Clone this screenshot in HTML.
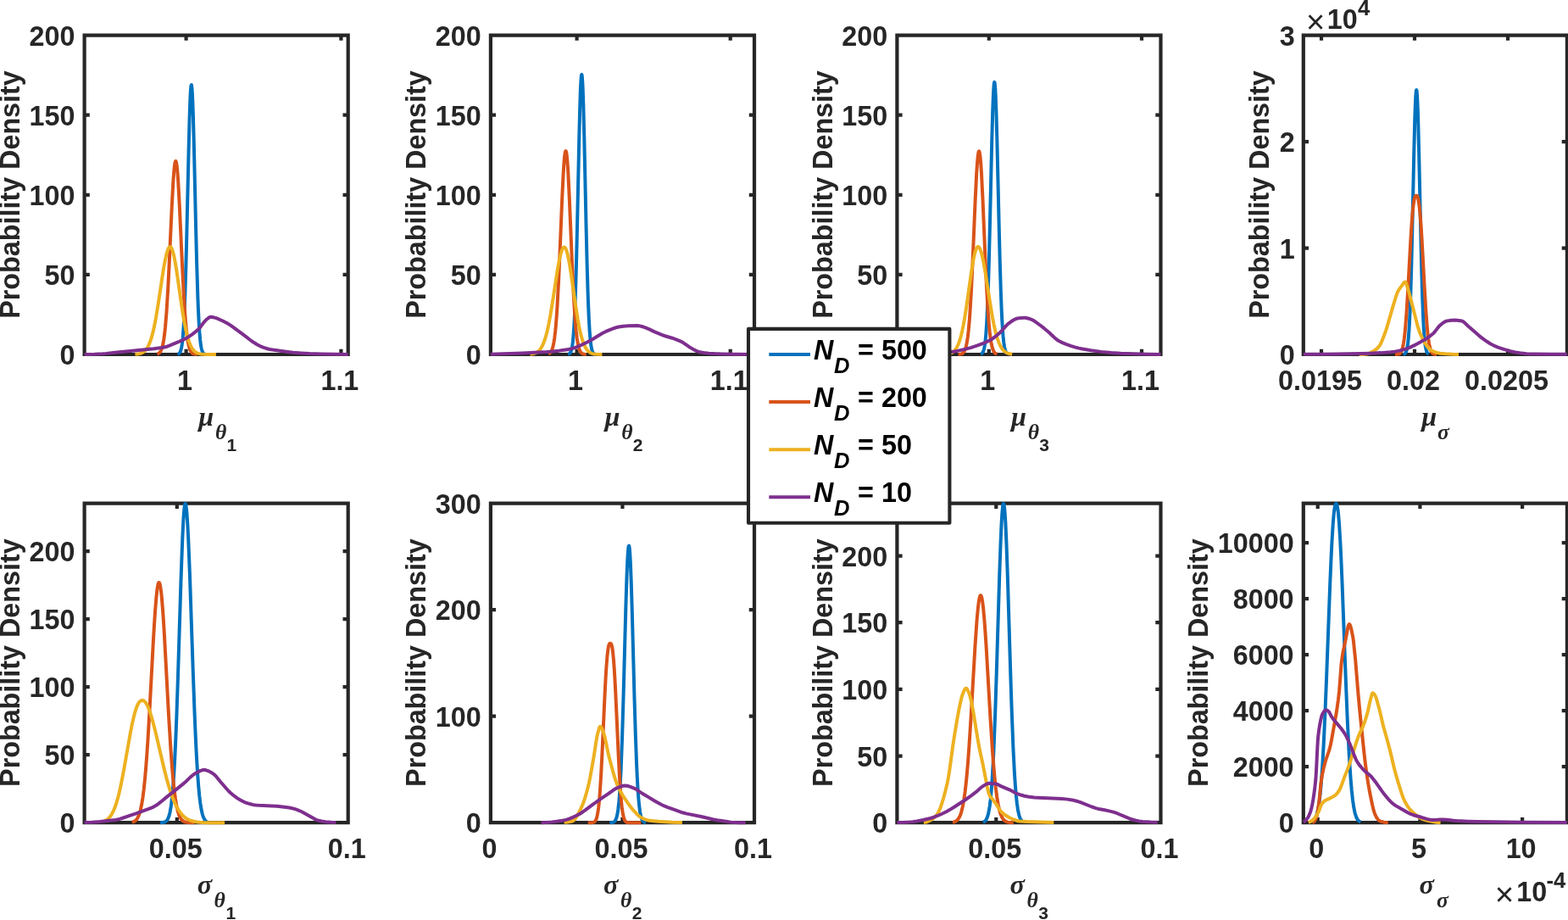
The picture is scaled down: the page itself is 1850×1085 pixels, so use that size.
<!DOCTYPE html>
<html><head><meta charset="utf-8"><title>Figure</title>
<style>html,body{margin:0;padding:0;background:#fff;overflow:hidden}svg{display:block}</style>
</head><body>
<svg width="1850" height="1085" viewBox="0 0 1850 1085">
<rect width="1850" height="1085" fill="#fff"/>
<g font-family="'Liberation Sans', Arial, sans-serif" font-weight="bold" font-size="32.3" fill="#262626" stroke-linejoin="round">
<clipPath id="c0"><rect x="96.6" y="38.6" width="317.1" height="382.4"/></clipPath>
<path d="M99.6 41.6H410.7V418H99.6Z" fill="none" stroke="#262626" stroke-width="4.2" stroke-linejoin="miter"/>
<path d="M219.6 418V411.8M219.6 41.6V47.8M402.4 418V411.8M402.4 41.6V47.8M99.6 323.9H105.8M410.7 323.9H404.5M99.6 229.8H105.8M410.7 229.8H404.5M99.6 135.7H105.8M410.7 135.7H404.5" stroke="#262626" stroke-width="4.2" fill="none"/>
<g clip-path="url(#c0)" fill="none" stroke-width="4" stroke-linejoin="round" stroke-linecap="butt">
<path stroke="#0072BD" d="M209.4 417.78L210.4 417.48L211.15 417.04L211.9 416.29L212.4 415.53L212.9 414.47L213.4 413.03L214.15 409.9L214.9 405.21L215.65 398.39L216.4 388.85L217.15 375.97L218.4 345.69L219.4 312.98L220.4 273.51L222.65 174.91L223.65 137.45L224.4 116.51L224.9 106.99L225.4 101.47L225.65 100.29L225.9 100.19L226.15 101.15L226.4 103.18L226.9 110.33L227.4 121.36L227.9 135.84L228.9 172.85L231.15 271.4L232.15 311.16L233.4 351.33L233.9 364.08L234.65 379.76L235.4 391.7L236.15 400.45L236.9 406.64L237.65 410.87L238.15 412.86L238.65 414.34L239.15 415.43L239.65 416.22L240.15 416.79L240.9 417.33L241.9 417.71L243 417.89"/>
<path stroke="#D95319" d="M185.5 417.53L186.5 417.18L187.25 416.78L188 416.21L188.75 415.41L189.5 414.3L190 413.35L190.75 411.53L191.25 410.01L192.25 406.02L193.25 400.51L194.25 393.12L195 386.14L196.5 367.99L198.25 339.43L199.75 309.38L202.75 243.82L204.25 215.98L205 205.16L205.75 197.01L206.5 191.89L207 190.27L207.25 190.01L207.5 190.12L207.75 190.6L208 191.45L208.75 196.15L209.5 203.91L210.25 214.4L211.75 241.77L215 312.56L216.5 342.18L217.5 359.09L218.25 370.07L219 379.57L220 390.02L221 398.15L222 404.28L222.5 406.71L223.25 409.67L223.75 411.25L224.5 413.14L225 414.13L225.75 415.28L226.5 416.11L227.5 416.87L228.5 417.34L229.5 417.63L230.75 417.82L232.5 417.94"/>
<path stroke="#EDB120" d="M159.4 417.82L163.15 417.44L164.65 417.14L166.15 416.71L167.4 416.22L168.65 415.56L169.9 414.7L170.9 413.83L171.9 412.78L172.9 411.51L174.65 408.68L176.4 404.91L178.15 400.06L179.65 394.93L180.9 389.92L182.4 383.01L183.9 375.16L186.65 358.62L192.4 320.65L193.9 311.78L195.15 305.28L196.65 298.86L197.9 294.87L198.65 293.14L199.4 291.92L200.15 291.25L200.65 291.1L201.15 291.21L201.9 291.88L202.4 292.66L203.15 294.32L204.4 298.33L205.65 303.75L206.9 310.38L208.4 319.58L214.4 361.24L215.9 370.87L217.4 379.61L219.15 388.51L220.9 395.93L222.65 401.91L224.4 406.58L225.4 408.72L226.4 410.52L227.4 412.03L228.4 413.27L229.4 414.28L230.65 415.29L231.9 416.04L233.4 416.7L234.65 417.09L236.15 417.42L239.9 417.83L244.65 417.97L254.9 418"/>
<path stroke="#7E2F8E" d="M99.6 417.9L111.6 417.64L121.35 417.18L125.35 416.88L135.85 415.75L181.6 411.19L190.6 410.08L193.85 409.51L195.85 409.02L199.85 407.6L210.6 403.22L214.1 401.7L219.1 399.18L224.1 396.12L227.1 394.04L229.85 391.95L232.1 390.07L234.1 388.2L236.35 385.81L239.85 380.98L241.85 378.6L243.35 377.04L245.6 375.25L246.85 374.39L247.85 373.94L248.85 373.8L250.1 373.9L251.6 374.19L254.35 374.89L255.85 375.41L262.85 378.54L268.1 381.25L270.85 382.9L274.1 385.14L289.35 396.46L295.85 401.48L298.85 403.57L303.6 406.48L307.1 408.31L311.1 409.9L315.35 411.25L318.35 411.97L321.6 412.55L337.6 414.76L345.6 415.69L355.1 416.44L365.1 417.01L379.35 417.43L396.1 417.79L410.7 417.9"/>
</g>
<text x="218.1" y="459.7" text-anchor="middle">1</text>
<text x="400.9" y="459.7" text-anchor="middle">1.1</text>
<text x="88.4" y="430.1" text-anchor="end">0</text>
<text x="88.4" y="336" text-anchor="end">50</text>
<text x="88.4" y="241.9" text-anchor="end">100</text>
<text x="88.4" y="147.8" text-anchor="end">150</text>
<text x="88.4" y="53.7" text-anchor="end">200</text>
<text transform="translate(23.2 229.5) rotate(-90)" text-anchor="middle" font-size="32.3">Probability Density</text>
<clipPath id="c1"><rect x="575.9" y="38.6" width="317.1" height="382.4"/></clipPath>
<path d="M578.9 41.6H890V418H578.9Z" fill="none" stroke="#262626" stroke-width="4.2" stroke-linejoin="miter"/>
<path d="M680.6 418V411.8M680.6 41.6V47.8M861.7 418V411.8M861.7 41.6V47.8M578.9 323.9H585.1M890 323.9H883.8M578.9 229.8H585.1M890 229.8H883.8M578.9 135.7H585.1M890 135.7H883.8" stroke="#262626" stroke-width="4.2" fill="none"/>
<g clip-path="url(#c1)" fill="none" stroke-width="4" stroke-linejoin="round" stroke-linecap="butt">
<path stroke="#0072BD" d="M670.1 417.81L671.1 417.53L671.85 417.11L672.6 416.38L673.1 415.63L673.6 414.59L674.1 413.14L674.6 411.18L675.1 408.57L675.85 403.05L676.6 395.06L677.35 383.9L677.85 374.37L679.1 342.03L680.1 306.93L681.1 264.57L683.35 159.98L684.35 121.54L684.85 106.9L685.35 96.14L685.85 89.69L686.1 88.17L686.35 87.82L686.6 88.64L686.85 90.62L687.35 97.96L687.85 109.54L688.35 124.88L689.35 164.33L691.6 269.07L692.6 310.8L693.6 345.09L694.1 359.14L694.85 376.42L695.6 389.55L696.35 399.14L697.1 405.9L697.85 410.47L698.35 412.61L698.85 414.2L699.35 415.36L699.85 416.19L700.35 416.77L701.1 417.34L701.85 417.65L703 417.88"/>
<path stroke="#D95319" d="M647 417.43L648 416.98L648.75 416.46L649.5 415.71L650.25 414.66L651 413.19L651.5 411.93L652.5 408.52L653.5 403.63L654.25 398.72L655.25 390.2L656 382.09L656.75 372.36L657.5 360.93L659 332.98L660.25 305.2L663.25 232.84L664.5 207.1L665.25 194.83L666 185.63L666.75 179.93L667.25 178.22L667.5 178L667.75 178.22L668 178.86L668.25 179.93L668.75 183.33L669.5 191.4L670.25 202.7L671.75 232.84L675 311.02L676.5 343.02L678 368.74L678.75 379.03L679.75 390.2L680.75 398.72L681.75 405.01L682.75 409.5L683.25 411.2L684 413.19L684.5 414.22L685.25 415.4L686 416.24L686.75 416.83L687.75 417.34L688.75 417.63L690 417.83L691.8 417.95"/>
<path stroke="#EDB120" d="M625.4 417.73L628.9 417.24L630.4 416.86L631.65 416.42L632.9 415.83L634.15 415.06L635.15 414.29L636.15 413.34L637.15 412.2L638.15 410.82L639.9 407.79L641.65 403.8L643.15 399.5L644.65 394.31L645.9 389.27L647.4 382.34L648.9 374.48L651.65 358.03L657.4 320.51L658.9 311.79L660.15 305.41L661.65 299.11L662.9 295.19L663.65 293.49L664.4 292.31L665.15 291.64L665.65 291.5L666.15 291.61L666.9 292.29L667.4 293.09L668.15 294.77L669.4 298.84L670.9 305.59L672.15 312.52L673.4 320.36L678.9 358.9L681.65 376.35L683.15 384.54L684.65 391.64L686.15 397.63L687.9 403.3L689.65 407.67L691.4 410.93L692.4 412.38L693.4 413.57L694.4 414.53L695.65 415.48L696.9 416.2L698.15 416.73L699.4 417.11L700.9 417.43L704.65 417.83L710.4 417.98"/>
<path stroke="#7E2F8E" d="M578.9 417.8L616.4 416.46L645.15 414.96L652.15 414.41L659.4 413.64L665.65 412.82L670.9 411.91L674.15 411.21L677.15 410.37L680.9 409.09L683.65 407.93L692.4 403.75L696.15 401.82L698.9 400.21L708.65 394.18L711.65 392.52L714.9 390.95L717.9 389.63L725.65 386.72L728.15 385.94L730.15 385.46L735.65 384.73L741.4 384.3L751.9 384L753.9 384.17L755.9 384.6L757.9 385.23L762.65 386.92L765.65 388.15L772.4 391.37L780.9 394.94L784.65 396.24L793.15 398.72L797.65 400.29L800.9 401.58L803.65 402.83L805.4 403.78L807.4 405.07L812.9 408.91L819.15 412.6L822.15 414.1L824.65 414.94L828.65 415.79L832.4 416.36L836.15 416.69L842.9 417.08L851.9 417.4L866.65 417.74L890 418"/>
</g>
<text x="679.1" y="459.7" text-anchor="middle">1</text>
<text x="860.2" y="459.7" text-anchor="middle">1.1</text>
<text x="567.7" y="430.1" text-anchor="end">0</text>
<text x="567.7" y="336" text-anchor="end">50</text>
<text x="567.7" y="241.9" text-anchor="end">100</text>
<text x="567.7" y="147.8" text-anchor="end">150</text>
<text x="567.7" y="53.7" text-anchor="end">200</text>
<text transform="translate(502.2 229.5) rotate(-90)" text-anchor="middle" font-size="32.3">Probability Density</text>
<clipPath id="c2"><rect x="1055.4" y="38.6" width="317.1" height="382.4"/></clipPath>
<path d="M1058.4 41.6H1369.5V418H1058.4Z" fill="none" stroke="#262626" stroke-width="4.2" stroke-linejoin="miter"/>
<path d="M1166.8 418V411.8M1166.8 41.6V47.8M1347 418V411.8M1347 41.6V47.8M1058.4 323.9H1064.6M1369.5 323.9H1363.3M1058.4 229.8H1064.6M1369.5 229.8H1363.3M1058.4 135.7H1064.6M1369.5 135.7H1363.3" stroke="#262626" stroke-width="4.2" fill="none"/>
<g clip-path="url(#c2)" fill="none" stroke-width="4" stroke-linejoin="round" stroke-linecap="butt">
<path stroke="#0072BD" d="M1157 417.66L1157.75 417.38L1158.5 416.88L1159.25 416.04L1159.75 415.2L1160.25 414.05L1160.75 412.5L1161.25 410.45L1161.75 407.76L1162.5 402.21L1163.25 394.35L1164 383.6L1164.5 374.54L1165.75 344.33L1166.75 311.97L1167.75 273.07L1170.25 165.48L1171.25 129.93L1171.75 116.22L1172.25 105.91L1172.75 99.4L1173 97.65L1173.25 96.92L1173.5 97.23L1173.75 98.57L1174.25 104.3L1174.75 113.87L1175.5 134.63L1176.5 171.52L1178.75 268.9L1179.75 308.35L1180.75 341.42L1181.75 367.21L1182.25 377.43L1183 389.73L1183.5 396.14L1184.25 403.49L1185 408.64L1185.75 412.14L1186.25 413.78L1186.75 415L1187.25 415.89L1188 416.79"/>
<path stroke="#D95319" d="M1130.5 417.95L1132.25 417.83L1133.5 417.63L1134.5 417.34L1135.5 416.85L1136.5 416.04L1137.25 415.13L1138 413.87L1138.5 412.78L1139.25 410.68L1139.75 408.91L1140.75 404.27L1141.75 397.83L1142.75 389.18L1143.75 377.95L1144.5 367.66L1146 342.11L1147.5 310.53L1150.75 233.7L1152.25 203.87L1153 192.54L1153.75 184.29L1154.25 180.69L1154.5 179.5L1154.75 178.71L1155 178.33L1155.25 178.37L1155.5 178.83L1155.75 179.7L1156.5 184.74L1157.25 193.21L1158 204.72L1159.5 234.81L1162.5 305.96L1164 338.22L1165.5 364.63L1166.25 375.36L1167 384.47L1167.75 392.03L1168.75 399.98L1169.75 405.84L1170.75 410.01L1171.75 412.9L1172.25 413.97L1173 415.2L1173.75 416.09L1174.5 416.71L1175.25 417.15L1176.3 417.53"/>
<path stroke="#EDB120" d="M1113 417.91L1117.25 417.64L1120.25 417.1L1121.5 416.7L1122.75 416.17L1124 415.44L1125 414.69L1126 413.76L1127 412.61L1128 411.22L1129 409.53L1130.75 405.77L1132.25 401.6L1133.75 396.44L1135.25 390.2L1136.5 384.15L1138 375.9L1140.5 360.02L1146.25 319.64L1147.5 311.8L1148.75 304.89L1150.25 298.18L1151.5 294.15L1152.25 292.5L1152.75 291.73L1153.5 291.09L1154 291L1154.5 291.17L1155.25 291.84L1156 293.03L1156.75 294.71L1157.5 296.87L1158.25 299.48L1159.75 305.92L1161 312.36L1162.5 321.06L1168.25 358.14L1171 374.35L1172.5 382.11L1174 388.96L1175.25 393.97L1176.75 399.14L1178.25 403.44L1180 407.45L1181.75 410.53L1182.75 411.93L1183.75 413.1L1184.75 414.07L1185.75 414.88L1187 415.68L1188.25 416.29L1189.5 416.76L1191 417.17L1194.2 417.66"/>
<path stroke="#7E2F8E" d="M1058.4 417.5L1076.65 416.98L1104.65 415.97L1114.15 415.52L1122.15 414.97L1126.15 414.47L1130.65 413.63L1140.4 411.33L1145.15 410.07L1152.65 407.69L1160.15 404.89L1163.15 403.6L1165.9 402.3L1168.4 400.98L1170.65 399.66L1172.65 398.26L1174.65 396.69L1180.4 391.63L1182.4 389.55L1187.15 384.1L1189.15 382.11L1190.15 381.28L1192.9 379.3L1196.15 377.2L1198.4 376.09L1200.4 375.47L1204.65 374.88L1207.9 374.7L1209.4 374.77L1210.9 375L1214.65 375.98L1217.65 377.03L1218.9 377.67L1220.4 378.58L1228.15 384.26L1231.9 387.17L1237.9 392.2L1243.4 397.54L1245.15 399.13L1247.15 400.67L1249.65 402.2L1253.4 404.14L1257.65 405.94L1263.15 407.89L1268.9 409.59L1272.9 410.59L1277.15 411.49L1287.15 413.23L1299.4 414.87L1311.15 415.99L1322.4 416.77L1337.9 417.37L1354.9 417.85L1369.5 418"/>
</g>
<text x="1165.3" y="459.7" text-anchor="middle">1</text>
<text x="1345.5" y="459.7" text-anchor="middle">1.1</text>
<text x="1047.2" y="430.1" text-anchor="end">0</text>
<text x="1047.2" y="336" text-anchor="end">50</text>
<text x="1047.2" y="241.9" text-anchor="end">100</text>
<text x="1047.2" y="147.8" text-anchor="end">150</text>
<text x="1047.2" y="53.7" text-anchor="end">200</text>
<text transform="translate(981.6 229.5) rotate(-90)" text-anchor="middle" font-size="32.3">Probability Density</text>
<clipPath id="c3"><rect x="1534.8" y="38.6" width="317.1" height="382.4"/></clipPath>
<path d="M1537.8 41.6H1848.9V418H1537.8Z" fill="none" stroke="#262626" stroke-width="4.2" stroke-linejoin="miter"/>
<path d="M1559 418V411.8M1559 41.6V47.8M1669 418V411.8M1669 41.6V47.8M1779 418V411.8M1779 41.6V47.8M1537.8 292.53H1544M1848.9 292.53H1842.7M1537.8 167.07H1544M1848.9 167.07H1842.7" stroke="#262626" stroke-width="4.2" fill="none"/>
<g clip-path="url(#c3)" fill="none" stroke-width="4" stroke-linejoin="round" stroke-linecap="butt">
<path stroke="#0072BD" d="M1655.5 417.86L1656.5 417.64L1657.25 417.29L1658 416.65L1658.5 415.98L1659 415.02L1659.5 413.67L1660.25 410.64L1661 405.92L1661.75 398.86L1662.5 388.71L1663 379.85L1663.75 362.95L1664.25 349.06L1665.25 314.83L1666.25 272.96L1668.25 180.37L1669.25 141.05L1669.75 125.93L1670.25 114.77L1670.75 108.07L1671 106.49L1671.25 106.12L1671.5 106.98L1671.75 109.03L1672.25 116.66L1672.75 128.66L1673.25 144.49L1674.25 184.78L1677 308.99L1678.25 352.01L1679.25 376.83L1679.75 386.24L1680.5 397.1L1681 402.49L1681.75 408.37L1682.5 412.23L1683.25 414.66L1683.75 415.73L1684.25 416.48L1684.75 416.99L1685.6 417.52"/>
<path stroke="#D95319" d="M1646 417.99L1648.75 417.86L1650.5 417.46L1651.75 416.71L1652.5 415.91L1653 415.17L1654 413L1655 409.61L1656 404.55L1656.75 399.43L1657.5 392.99L1658.25 385.14L1659.75 365.12L1661.25 340.16L1664.5 280.93L1665.5 265.25L1666.5 252.25L1667.5 242.38L1668.5 235.75L1669 233.57L1669.75 231.57L1670.25 230.94L1670.5 230.78L1671 230.7L1671.5 230.78L1671.75 230.94L1672.25 231.57L1673 233.57L1673.5 235.75L1674.5 242.38L1675.5 252.25L1676.5 265.25L1677.5 280.93L1680.75 340.16L1682.25 365.12L1683.75 385.14L1684.5 392.99L1685.25 399.43L1686 404.55L1686.75 408.51L1687.75 412.29L1688.75 414.72L1689.75 416.21L1690.25 416.71L1691 417.22L1691.75 417.55L1692.75 417.79L1695.1 417.97"/>
<path stroke="#EDB120" d="M1603.7 418L1607.95 417.89L1612.45 417.55L1614.2 417.14L1616.2 416.36L1620.2 414.36L1622.95 412.53L1624.45 411.27L1625.7 410.05L1627.2 408.35L1627.95 407.27L1629.2 404.97L1630.7 401.59L1632.7 396.44L1635.2 389.6L1637.45 382.35L1642.95 363.1L1646.7 350.71L1648.45 345.68L1649.45 343.51L1650.7 341.36L1653.95 336.88L1655.7 334.29L1656.45 333.36L1656.95 332.89L1657.45 332.59L1657.95 332.5L1658.2 332.62L1658.7 333.28L1659.45 335.1L1662.45 345.13L1667.45 364.22L1671.7 381.12L1672.95 385.67L1674.2 389.71L1675.95 394.25L1678.45 399.7L1680.7 403.86L1682.95 407.27L1684.45 409.13L1686.2 411.06L1687.45 412.26L1688.7 413.25L1689.7 413.86L1691.2 414.51L1694.95 415.82L1696.95 416.31L1698.95 416.67L1705.2 417.29L1713.45 417.83L1721 418"/>
<path stroke="#7E2F8E" d="M1537.8 417.8L1556.8 417.73L1577.3 417.51L1605.55 417.03L1617.05 416.71L1629.3 416.12L1640.8 415.27L1645.55 414.66L1650.8 413.64L1658.3 411.71L1661.05 410.75L1663.8 409.6L1668.3 407.42L1675.3 403.7L1679.55 401.35L1683.05 399.24L1687.3 396.32L1691.05 393.28L1692.8 391.35L1696.55 386.36L1698.3 384.32L1699.05 383.62L1702.05 381.24L1703.55 380.18L1704.8 379.43L1706.3 378.74L1707.8 378.37L1712.3 377.78L1716.05 377.6L1719.3 377.74L1722.8 378.16L1724.8 378.52L1726.05 379.1L1727.8 380.43L1732.05 384.54L1745.3 396.1L1748.8 398.88L1754.3 402.8L1758.55 405.5L1762.55 407.53L1768.05 409.81L1774.3 411.91L1782.3 414.25L1787.8 415.54L1793.05 416.31L1801.3 417.16L1806.3 417.45L1812.8 417.57L1830.55 417.74L1848.9 417.8"/>
</g>
<text x="1557.5" y="459.7" text-anchor="middle">0.0195</text>
<text x="1667.5" y="459.7" text-anchor="middle">0.02</text>
<text x="1777.5" y="459.7" text-anchor="middle">0.0205</text>
<text x="1527.6" y="430.1" text-anchor="end">0</text>
<text x="1527.6" y="304.63" text-anchor="end">1</text>
<text x="1527.6" y="179.17" text-anchor="end">2</text>
<text x="1527.6" y="53.7" text-anchor="end">3</text>
<text transform="translate(1497.3 229.5) rotate(-90)" text-anchor="middle" font-size="32.3">Probability Density</text>
<clipPath id="c4"><rect x="96.6" y="590.7" width="317.1" height="382.5"/></clipPath>
<path d="M99.6 593.7H410.7V970.2H99.6Z" fill="none" stroke="#262626" stroke-width="4.2" stroke-linejoin="miter"/>
<path d="M208.8 970.2V964M208.8 593.7V599.9M99.6 890.16H105.8M410.7 890.16H404.5M99.6 810.12H105.8M410.7 810.12H404.5M99.6 730.09H105.8M410.7 730.09H404.5M99.6 650.05H105.8M410.7 650.05H404.5" stroke="#262626" stroke-width="4.2" fill="none"/>
<g clip-path="url(#c4)" fill="none" stroke-width="4" stroke-linejoin="round" stroke-linecap="butt">
<path stroke="#0072BD" d="M189 970.16L191.25 970.05L193 969.81L194.25 969.46L195.5 968.81L196.5 967.97L197.5 966.69L198.25 965.34L199 963.54L199.75 961.19L200.5 958.14L201.75 951.13L203 940.99L204.25 926.93L205.25 912.32L206.25 894.38L207.25 872.96L208.25 848.07L210 797.18L213.5 683.92L215.25 635.83L216.25 615.2L217 603.98L217.75 596.84L218.25 594.48L218.5 594.04L218.75 594.08L219 594.53L219.25 595.41L219.75 598.4L220.25 602.99L221.25 616.77L222.25 636.01L224 679.9L227.75 791.46L229.5 839.35L230.5 863.36L231.5 884.49L232.25 898.4L233.25 914.37L234.25 927.55L235.25 938.19L236.25 946.61L237.5 954.48L238.75 960.01L239.5 962.45L240.25 964.37L241 965.85L242 967.31L243 968.31L243.9 968.93"/>
<path stroke="#D95319" d="M155.7 969.67L157.2 969.26L158.45 968.71L159.7 967.88L160.7 966.95L161.7 965.69L162.45 964.49L163.45 962.46L164.2 960.56L164.95 958.27L165.7 955.53L167.2 948.5L168.45 940.76L169.7 931.01L170.95 919.04L171.95 907.76L173.2 891.46L174.45 872.81L176.45 838.74L180.95 754.65L182.2 733.65L183.2 718.9L184.45 703.83L185.45 694.97L186.2 690.41L186.7 688.41L187.2 687.28L187.45 687.04L187.7 687.02L187.95 687.21L188.2 687.63L188.7 689.11L189.2 691.44L189.7 694.61L190.7 703.31L191.95 718.22L192.95 732.87L193.95 749.4L198.95 842.34L201.45 883.53L202.95 904.07L204.2 918.52L205.45 930.58L206.95 942.12L208.45 950.85L209.2 954.3L210.2 958.1L210.95 960.42L211.95 962.91L212.95 964.84L213.95 966.3L214.95 967.4L216.2 968.38L217.45 969.04L218.95 969.54L220.7 969.87L222.7 970.06L229.4 970.19"/>
<path stroke="#EDB120" d="M123.4 968.29L125.65 967.09L127.65 965.55L129.4 963.71L131.15 961.31L132.9 958.27L134.4 955.06L135.9 951.24L137.4 946.78L138.9 941.64L140.4 935.81L141.9 929.32L143.4 922.21L146.4 906.42L153.9 864L156.15 852.73L158.15 844.09L159.4 839.47L160.65 835.53L161.9 832.28L162.9 830.19L164.15 828.21L165.4 826.9L166.65 826.2L167.9 826L168.65 826.08L169.15 826.24L170.15 826.83L171.15 827.78L172.4 829.44L173.4 831.16L174.65 833.75L175.9 836.81L177.15 840.31L179.65 848.48L182.15 857.9L184.9 869.25L193.4 905.77L196.15 916.59L198.9 926.43L200.65 932.1L202.15 936.58L203.65 940.7L205.15 944.46L206.65 947.87L208.15 950.93L209.65 953.67L211.4 956.47L213.15 958.89L214.9 960.95L216.65 962.69L218.65 964.34L220.65 965.67L222.9 966.85L225.15 967.76L227.65 968.5L230.15 969.04L232.65 969.42L235.65 969.72L239.15 969.94L247.9 970.15L265.1 970.2"/>
<path stroke="#7E2F8E" d="M99.6 969.9L108.35 969.69L117.85 969.06L129.35 967.85L136.1 966.99L138.6 966.54L141.1 965.92L144.1 965.01L152.35 962.12L161.35 959.11L175.6 953.94L179.1 952.55L181.6 951.33L183.85 950L186.35 948.29L189.1 946.2L197.1 939.63L207.85 931.17L216.85 923.84L219.35 921.63L225.1 916.17L228.35 913.5L230.1 912.37L234.1 910.15L236.1 909.17L238.6 908.29L239.85 908.06L240.85 908L241.85 908.06L243.1 908.3L245.35 909.07L248.35 910.58L251.1 912.2L252.1 912.89L253.35 913.97L254.85 915.54L260.35 922.28L266.85 929.74L269.6 932.77L271.85 934.96L276.35 938.74L280.35 941.62L282.35 942.83L285.35 944.45L287.6 945.55L289.85 946.52L292.35 947.4L296.35 948.52L299.1 949.16L301.6 949.57L305.35 949.83L320.35 950.41L326.6 950.81L337.35 951.99L341.1 952.55L344.6 953.22L347.1 953.87L349.6 954.69L352.6 955.84L355.85 957.23L358.6 958.66L371.1 965.77L373.1 966.77L374.85 967.45L379.35 968.54L384.1 969.31L390.85 969.83L396.4 970"/>
</g>
<text x="207.3" y="1011.9" text-anchor="middle">0.05</text>
<text x="409.2" y="1011.9" text-anchor="middle">0.1</text>
<text x="88.4" y="982.3" text-anchor="end">0</text>
<text x="88.4" y="902.26" text-anchor="end">50</text>
<text x="88.4" y="822.22" text-anchor="end">100</text>
<text x="88.4" y="742.19" text-anchor="end">150</text>
<text x="88.4" y="662.15" text-anchor="end">200</text>
<text transform="translate(23.2 781.65) rotate(-90)" text-anchor="middle" font-size="32.3">Probability Density</text>
<clipPath id="c5"><rect x="575.9" y="590.7" width="317.1" height="382.5"/></clipPath>
<path d="M578.9 593.7H890V970.2H578.9Z" fill="none" stroke="#262626" stroke-width="4.2" stroke-linejoin="miter"/>
<path d="M734.45 970.2V964M734.45 593.7V599.9M578.9 844.7H585.1M890 844.7H883.8M578.9 719.2H585.1M890 719.2H883.8" stroke="#262626" stroke-width="4.2" fill="none"/>
<g clip-path="url(#c5)" fill="none" stroke-width="4" stroke-linejoin="round" stroke-linecap="butt">
<path stroke="#0072BD" d="M719.3 970.18L722.3 969.98L723.3 969.75L724.3 969.31L725.05 968.75L725.8 967.88L726.55 966.57L727.05 965.37L727.8 962.9L728.3 960.71L729.3 954.59L730.3 945.47L731.05 936.13L731.8 924.26L732.55 909.54L734.05 870.99L735.55 821.13L738.3 717.89L739.55 678.54L740.3 660.92L740.8 652.35L741.3 646.6L741.55 644.84L741.8 643.85L742.05 643.62L742.3 644.15L742.55 645.46L742.8 647.52L743.3 653.84L743.8 662.95L744.55 681.28L745.8 721.43L748.55 824.73L749.8 866.47L751.05 900.46L751.8 916.78L752.55 930.14L753.3 940.78L754.05 949.06L755.05 957.03L756.05 962.3L757.05 965.63L757.55 966.78L758.3 968.02L759.05 968.84L759.8 969.37L760.8 969.78L762.2 970.05"/>
<path stroke="#D95319" d="M693.7 970.2L697.95 970.15L699.95 969.89L700.7 969.62L701.45 969.17L702.45 968.1L702.95 967.26L703.45 966.16L704.45 962.9L705.45 957.74L706.2 952.28L706.95 945.18L707.7 936.27L709.2 912.85L710.45 888.24L713.7 816.89L714.7 797.98L715.45 786.02L716.45 773.55L717.45 765.17L717.95 762.43L718.7 759.92L719.2 759.12L719.45 758.92L719.95 758.8L720.45 758.87L720.7 759.02L721.2 759.71L721.7 761.04L722.2 763.16L722.7 766.17L723.2 770.15L724.2 781.19L725.2 796.27L726.2 814.87L729.7 891.39L731.2 919.81L732.2 934.94L732.95 944.1L733.7 951.43L734.7 958.66L735.7 963.49L736.7 966.52L737.2 967.54L737.7 968.3L738.45 969.09L739.2 969.57L740.45 969.98L742.45 970.17L756.4 970.2"/>
<path stroke="#EDB120" d="M665.6 969.8L667.6 969.73L669.85 969.5L672.35 969.09L674.85 968.54L676.1 968.03L676.85 967.49L677.6 966.79L678.6 965.64L679.6 964.25L680.85 962.26L682.1 960.02L686.35 951.48L688.1 947.26L689.6 942.95L691.35 937.2L693.35 929.84L694.85 923.75L696.35 916.44L698.35 905.31L700.85 890.85L703.35 874.59L704.35 868.89L704.85 866.6L706.6 859.88L707.35 857.77L707.85 856.98L708.1 856.81L708.35 856.82L708.85 857.12L709.35 857.76L709.85 858.66L710.6 860.36L712.1 864.26L712.85 866.6L714.1 871.65L717.35 887.4L718.6 892.68L721.85 905.03L724.1 913.09L726.1 919.55L727.85 924.44L729.35 927.96L731.1 931.58L732.85 934.84L734.85 938.22L737.35 942.08L741.85 948.68L744.35 952.1L746.85 955.19L751.6 960.25L753.35 961.89L754.85 963.1L756.35 964.07L759.1 965.5L761.35 966.47L763.35 967.11L765.35 967.51L769.1 968.03L776.85 968.73L793.1 969.66L804.9 970"/>
<path stroke="#7E2F8E" d="M638.5 970.2L644.25 969.93L651.5 969.37L656.75 968.81L661.75 968.1L666 967.32L668.5 966.68L671.75 965.6L675.25 964.16L678.75 962.53L683 960.39L685 959.26L687 957.98L690.25 955.68L699.25 948.92L711 940.66L718 935.87L723 932.27L725.5 930.63L728 929.3L732.75 927.4L735.25 926.7L737.25 926.5L739.5 926.7L742 927.28L745 928.32L749.25 930.08L751.25 931.29L756 934.65L759 936.49L772.25 944.43L777.75 947.58L781 949.25L784 950.56L787.75 952.02L797.75 955.59L805 958.29L810.25 959.61L828.25 963.23L840.75 966.18L848 967.6L859.75 969.32L862.5 969.64L871.75 970.14L879.7 970.3"/>
</g>
<text x="577.4" y="1011.9" text-anchor="middle">0</text>
<text x="732.95" y="1011.9" text-anchor="middle">0.05</text>
<text x="888.5" y="1011.9" text-anchor="middle">0.1</text>
<text x="567.7" y="982.3" text-anchor="end">0</text>
<text x="567.7" y="856.8" text-anchor="end">100</text>
<text x="567.7" y="731.3" text-anchor="end">200</text>
<text x="567.7" y="605.8" text-anchor="end">300</text>
<text transform="translate(502.2 781.65) rotate(-90)" text-anchor="middle" font-size="32.3">Probability Density</text>
<clipPath id="c6"><rect x="1055.4" y="590.7" width="317.1" height="382.5"/></clipPath>
<path d="M1058.4 593.7H1369.5V970.2H1058.4Z" fill="none" stroke="#262626" stroke-width="4.2" stroke-linejoin="miter"/>
<path d="M1175.3 970.2V964M1175.3 593.7V599.9M1058.4 891.53H1064.6M1369.5 891.53H1363.3M1058.4 812.87H1064.6M1369.5 812.87H1363.3M1058.4 734.2H1064.6M1369.5 734.2H1363.3M1058.4 655.53H1064.6M1369.5 655.53H1363.3" stroke="#262626" stroke-width="4.2" fill="none"/>
<g clip-path="url(#c6)" fill="none" stroke-width="4" stroke-linejoin="round" stroke-linecap="butt">
<path stroke="#0072BD" d="M1159.9 969.62L1160.9 969.21L1161.9 968.57L1162.9 967.56L1163.65 966.47L1164.4 964.99L1165.15 963.01L1165.9 960.41L1166.4 958.26L1167.65 951.04L1168.65 942.93L1169.65 932.24L1170.65 918.52L1171.65 901.4L1172.4 886.16L1174.15 842.53L1175.65 797.16L1179.15 680.71L1180.65 638.2L1181.65 616.44L1182.4 604.58L1183.15 597.02L1183.65 594.51L1183.9 594.04L1184.15 594.09L1184.4 594.67L1184.65 595.77L1185.15 599.5L1185.65 605.24L1186.4 617.38L1187.4 639.45L1188.9 682.28L1192.15 790.68L1193.65 836.86L1195.4 881.74L1196.9 911.26L1197.9 926.47L1198.9 938.47L1199.9 947.68L1200.9 954.57L1201.4 957.29L1202.15 960.61L1202.65 962.39L1203.4 964.51L1204.15 966.11L1204.9 967.3L1205.65 968.17L1206.6 968.93"/>
<path stroke="#D95319" d="M1123.9 969.79L1125.4 969.46L1126.9 968.93L1128.15 968.24L1129.15 967.46L1130.15 966.41L1131.15 965.02L1132.15 963.22L1132.9 961.53L1133.65 959.5L1134.4 957.08L1135.9 950.88L1137.4 942.48L1138.65 933.52L1139.9 922.55L1140.9 912.22L1142.15 897.33L1143.4 880.3L1145.65 844.94L1150.4 762.93L1152.4 733.6L1153.65 719.3L1154.65 710.71L1155.4 706.12L1155.9 704.01L1156.4 702.67L1156.65 702.29L1156.9 702.12L1157.15 702.14L1157.4 702.35L1157.9 703.38L1158.4 705.19L1159.15 709.32L1160.15 717.36L1161.4 731.07L1162.4 744.52L1163.65 763.74L1168.4 845.78L1170.9 884.57L1172.15 901.1L1173.4 915.46L1174.65 927.63L1176.15 939.48L1177.65 948.61L1179.15 955.42L1179.9 958.1L1180.9 961.02L1181.9 963.32L1182.9 965.1L1183.9 966.47L1185.15 967.72L1186.4 968.58L1187.65 969.16L1189.15 969.6L1190.9 969.9L1192.9 970.07L1195.8 970.16"/>
<path stroke="#EDB120" d="M1089.8 970L1091.3 969.88L1092.8 969.53L1094.3 969.01L1096.05 968.21L1100.55 965.65L1101.8 964.7L1103.3 963.24L1104.55 961.78L1105.8 960.09L1106.8 958.51L1107.55 957.11L1108.55 954.95L1109.55 952.49L1111.55 946.73L1113.3 940.86L1115.3 933.34L1117.55 924.02L1118.55 919.15L1119.55 913.25L1120.55 906.59L1124.05 880.95L1125.3 872.42L1129.3 848.1L1131.8 834.84L1134.05 824.59L1134.8 821.64L1135.55 819.18L1137.05 815.54L1138.05 813.46L1138.55 812.65L1139.05 812.06L1139.55 811.74L1139.8 811.7L1140.3 811.87L1141.05 812.7L1141.8 814.03L1142.8 816.3L1143.8 818.79L1144.3 820.37L1145.55 825.45L1147.3 833.9L1148.3 839.22L1152.05 862.51L1154.3 875.92L1155.55 882.75L1159.55 901.14L1164.8 928.24L1166.05 933.42L1166.8 936.12L1167.55 938.1L1168.3 939.4L1169.3 940.72L1171.3 942.92L1174.05 946.58L1176.3 949.81L1179.3 954.86L1180.05 955.9L1181.3 957.27L1183.8 959.52L1187.3 962.04L1190.8 964.22L1194.05 965.8L1199.3 967.73L1201.3 968.24L1203.05 968.5L1211.55 968.98L1243.3 970"/>
<path stroke="#7E2F8E" d="M1058.4 970L1064.65 969.9L1072.15 969.58L1076.9 969.13L1081.9 968.41L1089.15 967.01L1097.9 964.97L1101.9 963.73L1106.4 961.97L1110.9 959.95L1116.65 957.18L1120.4 955.11L1124.65 952.54L1137.4 944.24L1145.9 938.33L1151.4 934.21L1156.9 929.29L1159.15 927.54L1162.65 925.39L1164.15 924.58L1165.65 924.01L1167.15 923.8L1169.65 923.89L1172.15 924.12L1175.15 924.52L1176.4 924.87L1177.65 925.42L1181.4 927.36L1190.9 931.33L1197.4 934.78L1199.65 935.85L1204.4 937.52L1208.65 938.7L1214.15 939.69L1220.15 940.4L1224.65 940.68L1252.9 942.01L1259.4 942.62L1264.9 943.43L1269.15 944.45L1274.65 946.11L1288.15 951.49L1292.9 953.14L1296.15 953.94L1303.15 955.22L1307.15 956.09L1311.4 957.11L1315.15 958.18L1318.65 959.47L1332.65 965.37L1335.15 966.24L1339.4 967.42L1343.9 968.41L1348.15 968.89L1357.65 969.58L1365.8 969.8"/>
</g>
<text x="1173.8" y="1011.9" text-anchor="middle">0.05</text>
<text x="1368" y="1011.9" text-anchor="middle">0.1</text>
<text x="1047.2" y="982.3" text-anchor="end">0</text>
<text x="1047.2" y="903.63" text-anchor="end">50</text>
<text x="1047.2" y="824.97" text-anchor="end">100</text>
<text x="1047.2" y="746.3" text-anchor="end">150</text>
<text x="1047.2" y="667.63" text-anchor="end">200</text>
<text transform="translate(981.6 781.65) rotate(-90)" text-anchor="middle" font-size="32.3">Probability Density</text>
<clipPath id="c7"><rect x="1534.8" y="590.7" width="317.1" height="382.5"/></clipPath>
<path d="M1537.8 593.7H1848.9V970.2H1537.8Z" fill="none" stroke="#262626" stroke-width="4.2" stroke-linejoin="miter"/>
<path d="M1554.7 970.2V964M1554.7 593.7V599.9M1675.4 970.2V964M1675.4 593.7V599.9M1796.1 970.2V964M1796.1 593.7V599.9M1537.8 904.2H1544M1848.9 904.2H1842.7M1537.8 838.2H1544M1848.9 838.2H1842.7M1537.8 772.2H1544M1848.9 772.2H1842.7M1537.8 706.2H1544M1848.9 706.2H1842.7M1537.8 640.2H1544M1848.9 640.2H1842.7" stroke="#262626" stroke-width="4.2" fill="none"/>
<g clip-path="url(#c7)" fill="none" stroke-width="4" stroke-linejoin="round" stroke-linecap="butt">
<path stroke="#0072BD" d="M1553 962.61L1554.25 958.37L1555.25 953.67L1556.25 947.53L1557 941.82L1558 932.49L1558.75 924.09L1560.25 903.27L1561.75 876.8L1563.5 838.96L1565 801.56L1569.25 688L1570.5 658.6L1571.5 638.27L1572.75 617.85L1573.5 608.57L1574 603.67L1574.5 599.81L1575.25 595.94L1575.75 594.55L1576 594.19L1576.25 594.02L1576.5 594.01L1576.75 594.14L1577 594.46L1577.25 595L1577.75 596.75L1578.5 601.23L1579 605.5L1580 617.16L1581.25 637.34L1582.25 657.51L1583.5 686.76L1587.75 800.26L1589.75 849.36L1591.75 889.86L1592.75 906.37L1593.75 920.36L1594.75 931.97L1596 943.44L1597.25 952L1598.5 958.16L1599.25 960.94L1600 963.15L1600.75 964.89L1601.5 966.24L1602.25 967.28L1603.25 968.29L1604.25 968.97L1605.4 969.48"/>
<path stroke="#D95319" d="M1548.4 970L1549.15 969.82L1549.9 969.32L1550.9 968.26L1551.9 966.86L1552.65 965.46L1553.15 963.94L1553.65 961.96L1554.9 955.52L1556.15 947.61L1556.65 943.05L1558.4 924.25L1559.15 918.84L1560.15 913.12L1561.65 906.09L1563.4 899.22L1564.65 895.2L1567.65 886.55L1568.9 882.34L1569.9 878.27L1571.15 871.97L1576.4 842.53L1577.65 834.54L1578.9 825.44L1580.15 814.52L1582.4 784.76L1582.9 780L1583.65 774.68L1584.9 767.45L1587.65 754.35L1590.15 740.65L1590.65 738.57L1591.15 737.04L1591.65 736.21L1591.9 736.1L1592.15 736.18L1592.4 736.4L1592.9 737.25L1593.4 738.58L1594.15 741.28L1596.15 750.8L1596.9 756.06L1599.15 777.77L1602.4 817.55L1603.65 831.52L1605.65 851.79L1609.4 887.72L1610.9 900.79L1612.4 911.94L1614.4 924.89L1616.4 936.03L1619.15 949.26L1620.9 956.43L1622.15 960.15L1623.4 962.69L1624.65 964.9L1626.15 966.93L1626.9 967.63L1627.65 968.08L1630.4 969.04L1632.9 969.68L1635.4 970.07L1637.8 970.2"/>
<path stroke="#EDB120" d="M1543.7 970L1545.7 969.25L1547.7 967.97L1549.95 965.93L1551.2 964.6L1552.2 963.36L1553.95 960.67L1555.95 956.9L1556.7 955L1557.95 951.34L1558.7 949.58L1560.2 947.24L1561.45 945.73L1562.45 944.81L1563.7 943.99L1567.7 942.15L1571.95 940.01L1573.95 938.85L1575.45 937.78L1576.7 936.66L1578.2 934.89L1579.7 932.68L1581.2 930.04L1582.7 926.38L1585.95 917.13L1589.95 907.13L1591.95 901.72L1593.95 895.65L1600.45 874.94L1602.2 869.79L1603.95 865.56L1607.95 857.11L1610.2 851.13L1611.95 845.69L1613.7 839.52L1616.45 826.92L1618.2 820.28L1618.95 818.05L1619.45 817.34L1619.7 817.31L1620.2 817.49L1620.95 818.16L1622.45 820.22L1623.45 822.56L1624.45 825.68L1627.7 837.64L1632.2 856.76L1636.45 871.82L1640.2 885.82L1644.7 905.03L1646.7 912.68L1649.45 922.07L1654.2 937.24L1655.7 941.31L1657.95 946.03L1659.45 948.74L1660.95 951.12L1662.45 953.19L1664.2 955.23L1665.95 956.99L1668.2 958.99L1672.95 962.98L1675.2 964.57L1676.95 965.43L1679.45 966.43L1681.7 967.17L1684.2 967.82L1689.2 968.86L1692.95 969.53L1696.45 969.98L1699.6 970.2"/>
<path stroke="#7E2F8E" d="M1537.8 969.5L1538.55 969.13L1539.3 968.6L1541.3 966.67L1542.8 964.66L1544.05 962.45L1545.3 959.66L1546.3 956.87L1547.3 953.23L1548.3 948.68L1549.3 943.16L1550.3 936.61L1551.3 928.96L1552.3 920.09L1553.05 908.28L1554.3 882.05L1554.8 873.48L1555.3 867.87L1556.3 859.95L1557.05 855.38L1558.3 848.94L1559.05 845.63L1559.8 843.16L1561.05 840.81L1562.3 838.97L1563.05 838.15L1563.55 837.75L1564.05 837.5L1564.55 837.4L1565.3 837.53L1566.05 837.9L1567.55 839.04L1568.05 839.61L1568.8 840.85L1570.8 844.85L1572.05 846.72L1574.55 849.91L1582.05 858.81L1584.8 862.51L1587.05 865.93L1588.3 868.1L1589.3 870.08L1592.55 877.26L1594.05 880.99L1597.8 890.89L1599.8 895.57L1600.8 897.52L1602.05 899.55L1603.55 901.72L1605.05 903.68L1607.3 906.29L1610.05 909.15L1611.55 910.48L1616.05 914.1L1617.3 915.3L1618.55 916.68L1623.55 923.02L1630.05 932.37L1632.3 935.42L1638.05 942.46L1639.8 944.42L1641.55 946.21L1644.05 948.35L1647.05 950.38L1654.3 954.46L1660.3 958L1663.3 959.56L1665.55 960.48L1668.55 961.5L1676.8 963.79L1683.55 965.83L1687.3 966.71L1690.3 967.07L1693.05 967.05L1699.55 966.53L1702.55 966.53L1706.8 966.82L1715.3 967.76L1719.05 968.08L1731.8 968.66L1743.3 968.98L1798.3 969.67L1848.9 969.9"/>
</g>
<text x="1553.2" y="1011.9" text-anchor="middle">0</text>
<text x="1673.9" y="1011.9" text-anchor="middle">5</text>
<text x="1794.6" y="1011.9" text-anchor="middle">10</text>
<text x="1526.6" y="982.3" text-anchor="end">0</text>
<text x="1526.6" y="916.3" text-anchor="end">2000</text>
<text x="1526.6" y="850.3" text-anchor="end">4000</text>
<text x="1526.6" y="784.3" text-anchor="end">6000</text>
<text x="1526.6" y="718.3" text-anchor="end">8000</text>
<text x="1526.6" y="652.3" text-anchor="end">10000</text>
<text transform="translate(1425.2 781.65) rotate(-90)" text-anchor="middle" font-size="32.3">Probability Density</text>
<text x="234.2" y="502" font-family="'Liberation Serif', 'Times New Roman', serif" font-style="italic" font-weight="bold">μ</text>
<text x="254" y="517.5" font-family="'Liberation Serif', 'Times New Roman', serif" font-style="italic" font-weight="bold" font-size="25.6">θ</text>
<text x="267.4" y="532.3" font-size="21">1</text>
<text x="713.5" y="502" font-family="'Liberation Serif', 'Times New Roman', serif" font-style="italic" font-weight="bold">μ</text>
<text x="733.3" y="517.5" font-family="'Liberation Serif', 'Times New Roman', serif" font-style="italic" font-weight="bold" font-size="25.6">θ</text>
<text x="746.7" y="532.3" font-size="21">2</text>
<text x="1193" y="502" font-family="'Liberation Serif', 'Times New Roman', serif" font-style="italic" font-weight="bold">μ</text>
<text x="1212.8" y="517.5" font-family="'Liberation Serif', 'Times New Roman', serif" font-style="italic" font-weight="bold" font-size="25.6">θ</text>
<text x="1226.2" y="532.3" font-size="21">3</text>
<text x="1677.3" y="502" font-family="'Liberation Serif', 'Times New Roman', serif" font-style="italic" font-weight="bold">μ</text>
<text x="1695.9" y="517.8" font-family="'Liberation Serif', 'Times New Roman', serif" font-style="italic" font-weight="bold" font-size="25.6">σ</text>
<text x="232.8" y="1053.6" font-family="'Liberation Serif', 'Times New Roman', serif" font-style="italic" font-weight="bold">σ</text>
<text x="252.6" y="1069.7" font-family="'Liberation Serif', 'Times New Roman', serif" font-style="italic" font-weight="bold" font-size="25.6">θ</text>
<text x="266.4" y="1084.4" font-size="21">1</text>
<text x="712.1" y="1053.6" font-family="'Liberation Serif', 'Times New Roman', serif" font-style="italic" font-weight="bold">σ</text>
<text x="731.9" y="1069.7" font-family="'Liberation Serif', 'Times New Roman', serif" font-style="italic" font-weight="bold" font-size="25.6">θ</text>
<text x="745.7" y="1084.4" font-size="21">2</text>
<text x="1191.6" y="1053.6" font-family="'Liberation Serif', 'Times New Roman', serif" font-style="italic" font-weight="bold">σ</text>
<text x="1211.4" y="1069.7" font-family="'Liberation Serif', 'Times New Roman', serif" font-style="italic" font-weight="bold" font-size="25.6">θ</text>
<text x="1225.2" y="1084.4" font-size="21">3</text>
<text x="1674.6" y="1053.6" font-family="'Liberation Serif', 'Times New Roman', serif" font-style="italic" font-weight="bold">σ</text>
<text x="1695" y="1069.7" font-family="'Liberation Serif', 'Times New Roman', serif" font-style="italic" font-weight="bold" font-size="25.6">σ</text>
<text x="1540.9" y="39.4" font-family="'Liberation Sans', Arial, sans-serif" font-weight="normal" font-size="38">×</text>
<text x="1565.7" y="33.7">10</text>
<text x="1602" y="18.2" font-size="25.6">4</text>
<text x="1763.7" y="1067.6" font-family="'Liberation Sans', Arial, sans-serif" font-weight="normal" font-size="38.5">×</text>
<text x="1789.3" y="1063.2">10</text>
<text x="1824.4" y="1047.3" font-size="25.6">-4</text>
<rect x="883" y="387.9" width="237.4" height="228.8" fill="#fff" stroke="#262626" stroke-width="4.1"/>
<path d="M907.3 418H956" stroke="#0072BD" stroke-width="4" fill="none"/>
<text x="960" y="423.6" fill="#000" font-style="italic">N</text>
<text x="984.1" y="439.7" fill="#000" font-style="italic" font-size="25.6">D</text>
<text x="1012.1" y="423.6" fill="#000">= 500</text>
<path d="M907.3 474.1H956" stroke="#D95319" stroke-width="4" fill="none"/>
<text x="960" y="479.7" fill="#000" font-style="italic">N</text>
<text x="984.1" y="495.8" fill="#000" font-style="italic" font-size="25.6">D</text>
<text x="1012.1" y="479.7" fill="#000">= 200</text>
<path d="M907.3 530.2H956" stroke="#EDB120" stroke-width="4" fill="none"/>
<text x="960" y="535.8" fill="#000" font-style="italic">N</text>
<text x="984.1" y="551.9" fill="#000" font-style="italic" font-size="25.6">D</text>
<text x="1012.1" y="535.8" fill="#000">= 50</text>
<path d="M907.3 586.3H956" stroke="#7E2F8E" stroke-width="4" fill="none"/>
<text x="960" y="591.9" fill="#000" font-style="italic">N</text>
<text x="984.1" y="608" fill="#000" font-style="italic" font-size="25.6">D</text>
<text x="1012.1" y="591.9" fill="#000">= 10</text>
</g>
</svg>
</body></html>
